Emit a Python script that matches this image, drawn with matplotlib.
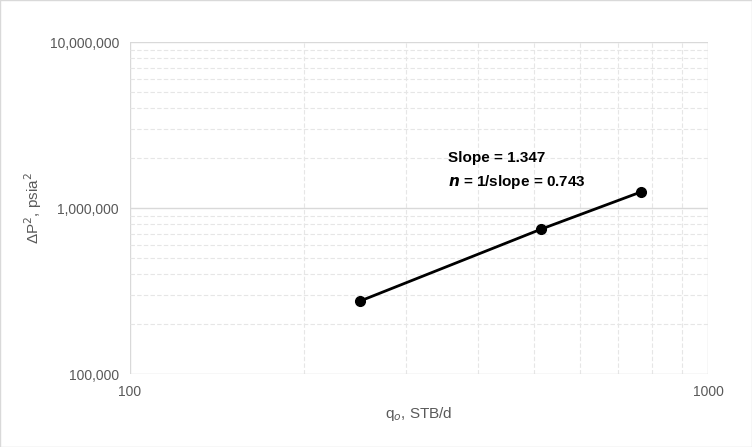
import matplotlib
matplotlib.use("Agg")
import matplotlib.pyplot as plt
from matplotlib.ticker import FuncFormatter, LogLocator, NullFormatter

q = [250, 515, 765]
dp2 = [275000, 747000, 1248000]

plt.rcParams['font.family'] = ['Liberation Sans', 'DejaVu Sans']
fig = plt.figure(figsize=(7.52, 4.47), dpi=100)
ax = fig.add_axes([130/752, 1-374/447, 578/752, 332/447])
ax.plot(q, dp2, color='black', lw=2, marker='o', ms=7, zorder=3)
ax.set_xscale('log'); ax.set_yscale('log')
ax.set_xlim(100, 1000); ax.set_ylim(1e5, 1e7)
ax.xaxis.set_major_formatter(FuncFormatter(lambda v, p: f"{int(round(v))}"))
ax.yaxis.set_major_formatter(FuncFormatter(lambda v, p: f"{int(round(v)):,}"))
ax.xaxis.set_minor_locator(LogLocator(base=10, subs=range(2, 10)))
ax.yaxis.set_minor_locator(LogLocator(base=10, subs=range(2, 10)))
ax.xaxis.set_minor_formatter(NullFormatter()); ax.yaxis.set_minor_formatter(NullFormatter())
ax.grid(which='major', color='#d9d9d9', lw=1)
ax.grid(which='minor', color='#e6e6e6', lw=0.8, ls=(0, (4, 2)))
ax.tick_params(which='both', length=0, labelsize=10, colors='#595959', pad=8)
for s in ax.spines.values():
    s.set_visible(False)
ax.set_xlabel('q$_o$, STB/d', color='#595959', fontsize=11)
ax.set_ylabel('ΔP$^2$, psia$^2$', color='#595959', fontsize=11)
ax.text(0.55, 0.64, 'Slope = 1.347', transform=ax.transAxes, fontsize=11, fontweight='bold')
ax.text(0.55, 0.565, '$\\bfit{n}$ = 1/slope = 0.743', transform=ax.transAxes, fontsize=11, fontweight='bold')
fig.patches.append(plt.Rectangle((0, 0), 1, 1, transform=fig.transFigure, fill=False, ec='#d9d9d9', lw=1))
fig.savefig('out.png', dpi=100)
